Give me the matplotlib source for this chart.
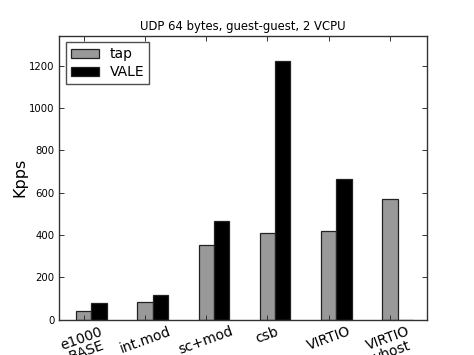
import matplotlib
matplotlib.use("Agg")
import matplotlib.pyplot as plt
import numpy as np

categories = ["e1000\nBASE", "int.mod", "sc+mod", "csb", "VIRTIO", "VIRTIO\nvhost"]
tap = [41, 82, 354, 409, 417, 568]
vale = [77, 118, 468, 1222, 663, 0]

fig = plt.figure(figsize=(4.74, 3.55), dpi=100)
ax = fig.add_axes([0.125, 0.1, 0.775, 0.8])

ind = np.arange(len(categories))
w = 0.25
ax.bar(ind, tap, w, color="#999999", edgecolor="#222222", linewidth=0.9, label="tap")
ax.bar(ind + w, vale, w, color="black", edgecolor="#222222", linewidth=0.9, label="VALE")

ax.set_xlim(-0.4, 5.6)
ax.set_ylim(0, 1344)
ax.set_xticks(ind)
ax.set_xticklabels(categories, rotation=20, ha="center", fontsize=10, linespacing=0.95)
ax.set_yticks([0, 200, 400, 600, 800, 1000, 1200])
ax.tick_params(axis="y", labelsize=7.3)
ax.tick_params(direction="in", top=True, right=True, length=3.5, width=0.7, color="#333333")
ax.set_ylabel("Kpps", fontsize=11.5, labelpad=1)
ax.set_title("UDP 64 bytes, guest-guest, 2 VCPU", fontsize=8.4, pad=4)
for s in ax.spines.values():
    s.set_color("#333333")
    s.set_linewidth(1.0)

leg = ax.legend(loc="upper left", fontsize=10, fancybox=False, borderaxespad=0.5,
                handlelength=2.0, handleheight=0.7, borderpad=0.35, labelspacing=0.3)
leg.get_frame().set_edgecolor("#222222")
leg.get_frame().set_linewidth(1.0)

fig.savefig("out.png", dpi=100)
